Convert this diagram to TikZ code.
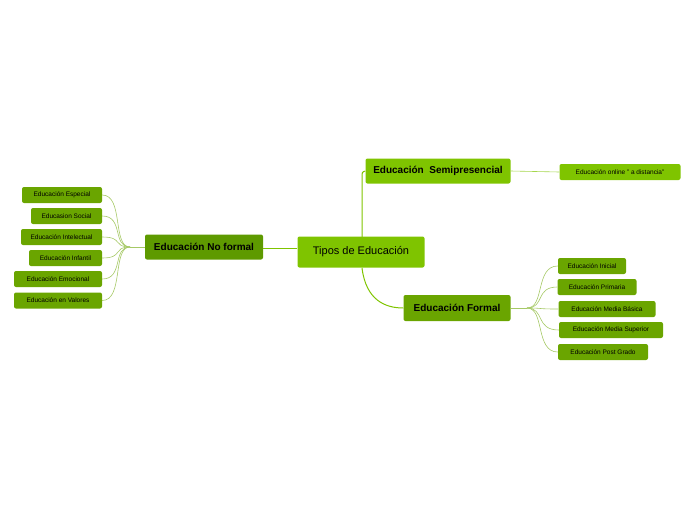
\documentclass[tikz,border=0pt]{standalone}
\usepackage{fontspec}
\setmainfont{Liberation Sans}
\begin{document}
\begin{tikzpicture}[x=1pt,y=-1pt,
 box/.style={rounded corners=2pt,text=black,inner sep=0pt,align=center},
 big/.style={box,font=\fontsize{10}{12}\selectfont\bfseries},
 small/.style={box,font=\fontsize{6.5}{8}\selectfont,minimum height=16pt},
 lnk/.style={draw=gbright!70!white,line width=0.6pt},
 lnkd/.style={draw=gdark!60!white,line width=0.6pt}]
\definecolor{gbright}{HTML}{7FC400}
\definecolor{gdark}{HTML}{6AA500}
\definecolor{gdarker}{HTML}{5E9A00}
\useasboundingbox (0,0) rectangle (696,520);
\node[big,fill=gbright,minimum width=127pt,minimum height=31pt,font=\fontsize{11}{13}\selectfont] (root) at (361,252) {Tipos de Educación};
\node[big,fill=gbright,minimum width=145pt,minimum height=25pt] (semi) at (438,171) {Educación\ \ Semipresencial};
\node[small,fill=gbright,minimum width=121pt] (online) at (620,172) {Educación online " a distancia"};
\node[big,fill=gdark,minimum width=107pt,minimum height=26pt] (formal) at (457,308) {Educación Formal};
\node[big,fill=gdarker,minimum width=118pt,minimum height=25pt] (nof) at (204,247) {Educación No formal};
\foreach \n/\x/\y/\w/\t in {f1/592/266/68/Educación Inicial,f2/597/287/79/Educación Primaria,f3/607/309/97/Educación Media Básica,f4/611/330/104/Educación Media Superior,f5/603/352/90/Educación Post Grado}
 \node[small,fill=gdark,minimum width=\w pt] (\n) at (\x,\y) {\t};
\foreach \n/\x/\y/\w/\t in {n1/62/195/80/Educación Especial,n2/66.5/216/71/Educasion Social,n3/61.5/237/81/Educación Intelectual,n4/65.5/258/73/Educación Infantil,n5/58/279/88/Educación Emocional,n6/58/300.5/88/Educación en Valores}
 \node[small,fill=gdark,minimum width=\w pt] (\n) at (\x,\y) {\t};
% main links
\draw[draw=gbright,line width=1pt] (root.west|-0,248) -- (nof.east|-0,248);
\draw[draw=gbright,line width=1pt] (362,237) -- (362,178) .. controls (362,172) .. (semi.west);
\draw[draw=gbright,line width=1pt] (362,268) .. controls (366,300) and (385,308) .. (formal.west);
\draw[lnk] (semi.east) -- (online.west);
\coordinate (jr) at (527,308);
\draw[lnkd] (formal.east) -- (jr);
\foreach \n in {f1,f2,f3,f4,f5} \draw[lnkd] (jr) .. controls (545,308) and (535,0|-\n.west) .. (\n.west);
\coordinate (jl) at (130,247);
\draw[lnkd] (nof.west) -- (jl);
\foreach \n in {n1,n2,n3,n4,n5,n6} \draw[lnkd] (jl) .. controls (112,247) and (124,0|-\n.east) .. (\n.east);
\end{tikzpicture}
\end{document}
